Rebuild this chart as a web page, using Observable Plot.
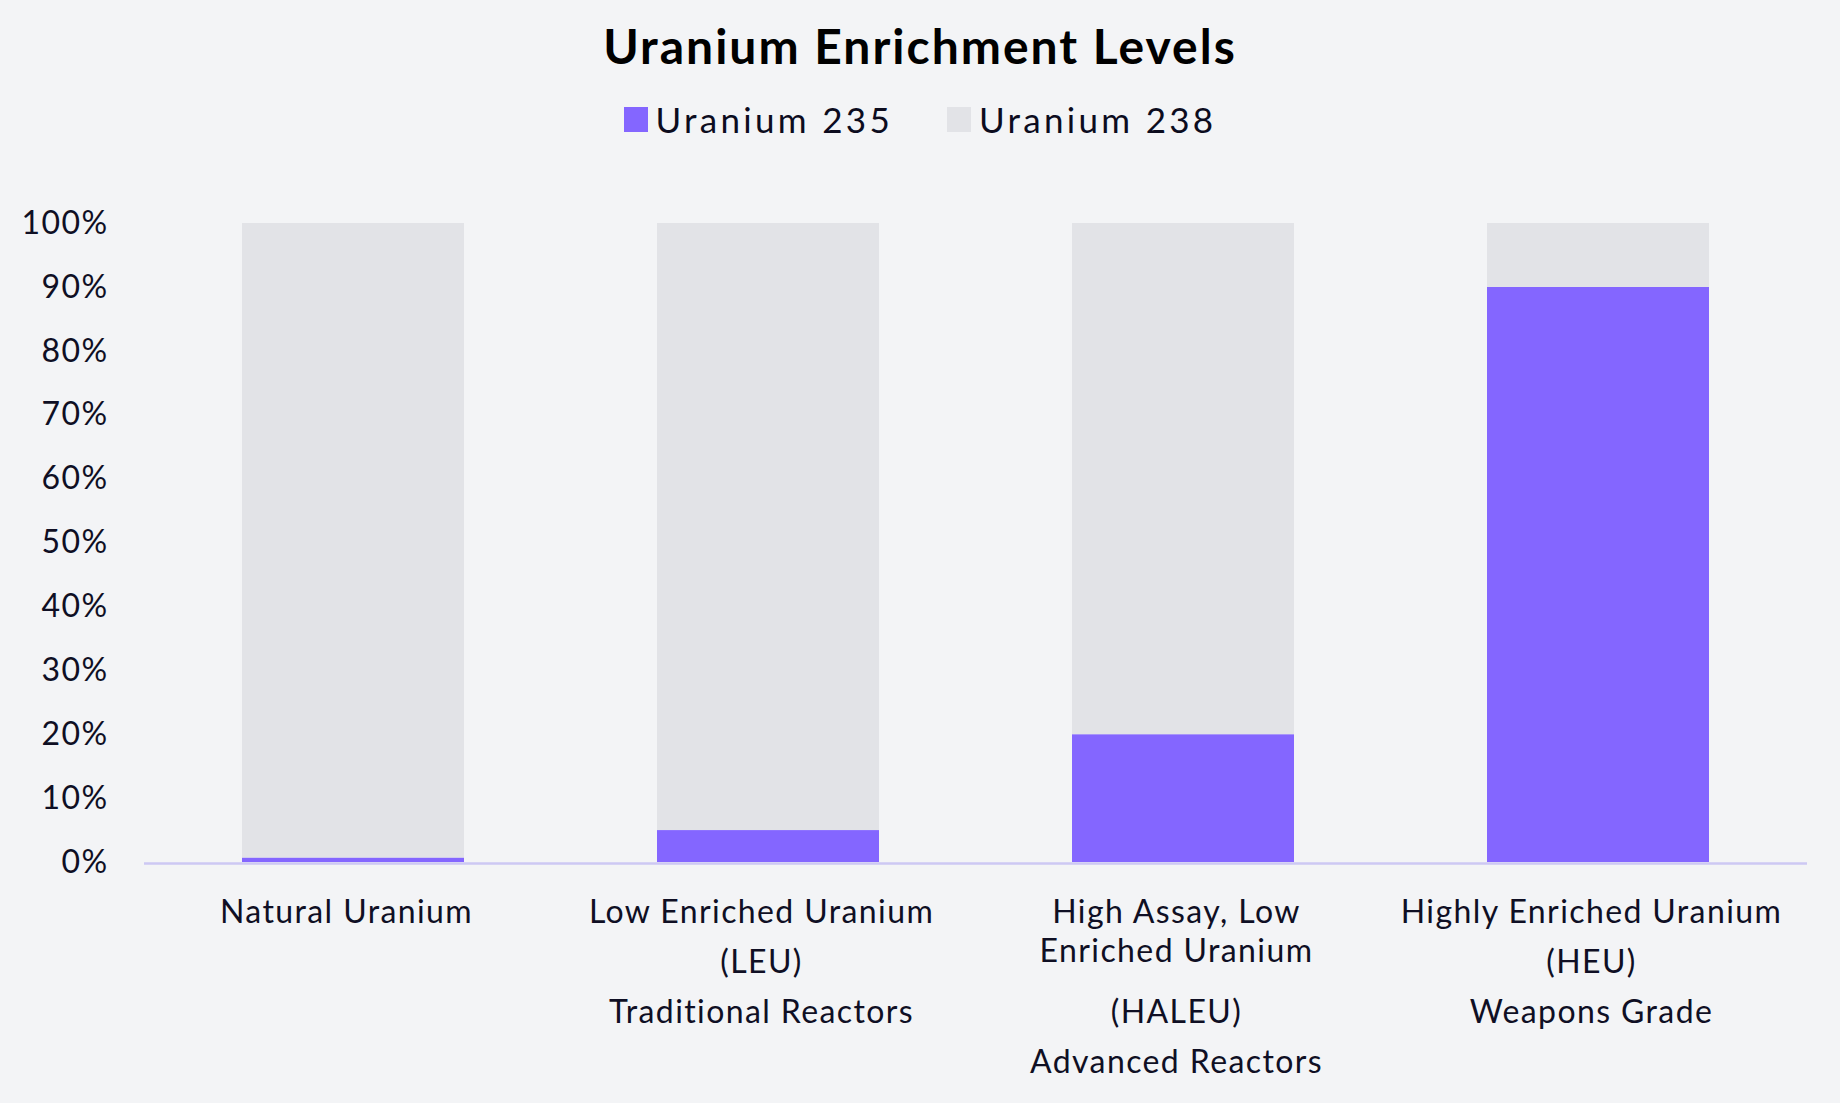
<!DOCTYPE html>
<html>
<head>
<meta charset="utf-8">
<script src="https://cdn.jsdelivr.net/npm/d3@7"></script>
<script src="https://cdn.jsdelivr.net/npm/@observablehq/plot@0.6"></script>
<style>
  html, body { margin: 0; padding: 0; background: #f3f4f6; }
  body { width: 1840px; height: 1103px; overflow: hidden; font-family: Lato, "Noto Sans", sans-serif; }
  #header { position: relative; width: 1840px; height: 160px; }
  #title { position: absolute; left: 0; right: 0; top: 22px; text-align: center;
           font-weight: 700; font-size: 48px; line-height: 48px; letter-spacing: 2px; color: #000; }
  #legend { position: absolute; left: 0; right: 0; top: 102px; display: flex; justify-content: center;
            align-items: center; font-size: 35px; line-height: 35px; letter-spacing: 3.3px; color: #0c0c1e; }
  .item { display: flex; align-items: center; }
  .item + .item { margin-left: 54px; }
  .sw { width: 24px; height: 25px; margin-right: 8px; }
  #chart svg { display: block; }
</style>
</head>
<body>
<div id="header">
  <div id="title"></div>
  <div id="legend"></div>
</div>
<div id="chart"></div>
<script>
const titleText = "Uranium Enrichment Levels";
const categories = ["Natural Uranium", "LEU", "HALEU", "HEU"];
const categoryLabels = [
  [["Natural Uranium"]],
  [["Low Enriched Uranium"], ["(LEU)"], ["Traditional Reactors"]],
  [["High Assay, Low", "Enriched Uranium"], ["(HALEU)"], ["Advanced Reactors"]],
  [["Highly Enriched Uranium"], ["(HEU)"], ["Weapons Grade"]]
];
const series = ["Uranium 235", "Uranium 238"];
const seriesColors = ["#8466ff", "#e2e3e7"];
const u235 = [0.7, 5, 20, 90];
const u238 = [99.3, 95, 80, 10];
const yTicks = [0, 10, 20, 30, 40, 50, 60, 70, 80, 90, 100];

document.getElementById("title").textContent = titleText;
const legend = document.getElementById("legend");
series.forEach((s, i) => {
  const it = document.createElement("div");
  it.className = "item";
  const sw = document.createElement("div");
  sw.className = "sw";
  sw.style.background = seriesColors[i];
  const tx = document.createElement("span");
  tx.textContent = s;
  it.appendChild(sw); it.appendChild(tx);
  legend.appendChild(it);
});

const rows = categories.flatMap((c, i) => [
  {category: c, isotope: series[0], value: u235[i]},
  {category: c, isotope: series[1], value: u238[i]}
]);

// label lines: paragraphs (with wrapped lines) laid out below the axis
const FS = 32;
const labelRows = [];
categoryLabels.forEach((paras, i) => {
  let off = 71;
  paras.forEach((lines, p) => {
    lines.forEach((t, k) => {
      labelRows.push({category: categories[i], text: t, off});
      if (k < lines.length - 1) off += 39;
    });
    off += 50 + (lines.length > 1 ? 11 : 0);
  });
});

const chart = Plot.plot({
  width: 1840,
  height: 943,
  marginTop: 63,
  marginBottom: 241,
  marginLeft: 144,
  marginRight: 33,
  style: {background: "transparent", fontFamily: "Lato, 'Noto Sans', sans-serif", fontSize: FS + "px", color: "#0f0f24", letterSpacing: "1.4px", overflow: "visible"},
  x: {domain: categories, paddingInner: 0.464, paddingOuter: 0.232, axis: null},
  y: {domain: [0, 100], axis: null},
  color: {domain: series, range: seriesColors},
  marks: [
    Plot.ruleY([0], {stroke: "#cdc8f3", strokeWidth: 2.5, dy: 1}),
    Plot.barY(rows, {x: "category", y: "value", fill: "isotope", order: series}),
    Plot.axisY({ticks: yTicks, tickFormat: d => d + "%", tickSize: 0, tickPadding: 36, fontSize: FS, fill: "#0f0f24", label: null, style: {letterSpacing: "0px"}}),
    ...labelRows.map(r => Plot.text([r], {x: "category", frameAnchor: "bottom", text: "text", dx: -7, dy: r.off - 0.32 * FS, fontSize: FS, fill: "#0f0f24"}))
  ]
});
document.getElementById("chart").appendChild(chart);
</script>
</body>
</html>
